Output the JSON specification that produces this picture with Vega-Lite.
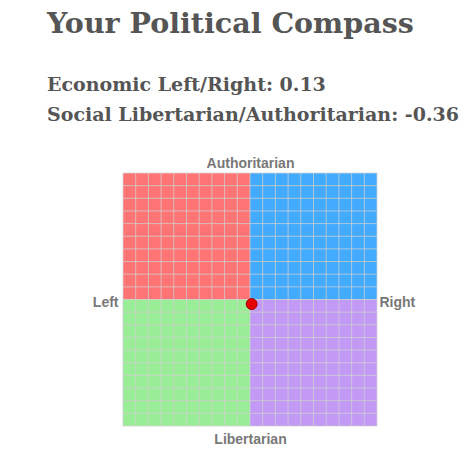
{
  "$schema": "https://vega.github.io/schema/vega-lite/v6.json",
  "width": 254,
  "height": 253,
  "autosize": "none",
  "padding": {"left": 123, "top": 173, "right": 97, "bottom": 34},
  "background": "white",
  "title": {
    "text": "Your Political Compass",
    "subtitle": ["Economic Left/Right: 0.13", "Social Libertarian/Authoritarian: -0.36"],
    "anchor": "start",
    "frame": "group",
    "dx": -76,
    "offset": 31,
    "font": "DejaVu Serif",
    "fontSize": 28.5,
    "fontWeight": "bold",
    "color": "#555555",
    "subtitleFont": "DejaVu Serif",
    "subtitleFontSize": 19,
    "subtitleFontWeight": "bold",
    "subtitleColor": "#555555",
    "subtitlePadding": 38,
    "subtitleLineHeight": 30
  },
  "datasets": {
    "grid": [
      {"v": -10}, {"v": -9}, {"v": -8}, {"v": -7}, {"v": -6}, {"v": -5}, {"v": -4},
      {"v": -3}, {"v": -2}, {"v": -1}, {"v": 0}, {"v": 1}, {"v": 2}, {"v": 3},
      {"v": 4}, {"v": 5}, {"v": 6}, {"v": 7}, {"v": 8}, {"v": 9}, {"v": 10}
    ]
  },
  "config": {
    "view": {"stroke": null},
    "axis": {
      "grid": false,
      "domain": false,
      "ticks": false,
      "labels": false,
      "titleFont": "Liberation Sans",
      "titleFontSize": 14,
      "titleFontWeight": "bold",
      "titleColor": "#787878"
    }
  },
  "layer": [
    {
      "data": {
        "values": [
          {"quadrant": "Authoritarian Left", "x1": -10, "x2": 0, "y1": 0, "y2": 10},
          {"quadrant": "Authoritarian Right", "x1": 0, "x2": 10, "y1": 0, "y2": 10},
          {"quadrant": "Libertarian Left", "x1": -10, "x2": 0, "y1": -10, "y2": 0},
          {"quadrant": "Libertarian Right", "x1": 0, "x2": 10, "y1": -10, "y2": 0}
        ]
      },
      "mark": {"type": "rect"},
      "encoding": {
        "x": {
          "field": "x1", "type": "quantitative",
          "scale": {"domain": [-10, 10], "nice": false, "zero": false},
          "axis": {"orient": "bottom", "title": "Libertarian", "titleY": 17, "titleBaseline": "alphabetic"}
        },
        "x2": {"field": "x2"},
        "y": {
          "field": "y1", "type": "quantitative",
          "scale": {"domain": [-10, 10], "nice": false, "zero": false},
          "axis": {"orient": "left", "title": "Left", "titleAngle": 0, "titleAlign": "right", "titleX": -5, "titleY": 133, "titleBaseline": "alphabetic"}
        },
        "y2": {"field": "y2"},
        "color": {
          "field": "quadrant", "type": "nominal",
          "scale": {
            "domain": ["Authoritarian Left", "Authoritarian Right", "Libertarian Left", "Libertarian Right"],
            "range": ["#ff7575", "#42aaff", "#9aed97", "#c29af5"]
          },
          "legend": null
        }
      }
    },
    {
      "data": {"name": "grid"},
      "mark": {"type": "rule", "color": "#d0d0d0", "opacity": 0.75, "strokeWidth": 1},
      "encoding": {"x": {"field": "v", "type": "quantitative", "axis": null}}
    },
    {
      "data": {"name": "grid"},
      "mark": {"type": "rule", "color": "#d0d0d0", "opacity": 0.75, "strokeWidth": 1},
      "encoding": {"y": {"field": "v", "type": "quantitative", "axis": null}}
    },
    {
      "mark": {"type": "rule", "color": "#000000", "strokeWidth": 3},
      "encoding": {"x": {"datum": 0, "type": "quantitative", "axis": null}}
    },
    {
      "mark": {"type": "rule", "color": "#000000", "strokeWidth": 3},
      "encoding": {"y": {"datum": 0, "type": "quantitative", "axis": null}}
    },
    {
      "data": {"values": [{"economic": 0.13, "social": -0.36}]},
      "mark": {"type": "point", "filled": true, "color": "#e60000", "stroke": "#a00000", "strokeWidth": 1, "opacity": 1, "size": 120},
      "encoding": {
        "x": {
          "field": "economic", "type": "quantitative",
          "axis": {"orient": "top", "title": "Authoritarian", "titleY": -6, "titleBaseline": "alphabetic"}
        },
        "y": {
          "field": "social", "type": "quantitative",
          "axis": {"orient": "right", "title": "Right", "titleAngle": 0, "titleAlign": "left", "titleX": 2, "titleY": 133, "titleBaseline": "alphabetic"}
        }
      }
    }
  ],
  "resolve": {"axis": {"x": "independent", "y": "independent"}}
}
